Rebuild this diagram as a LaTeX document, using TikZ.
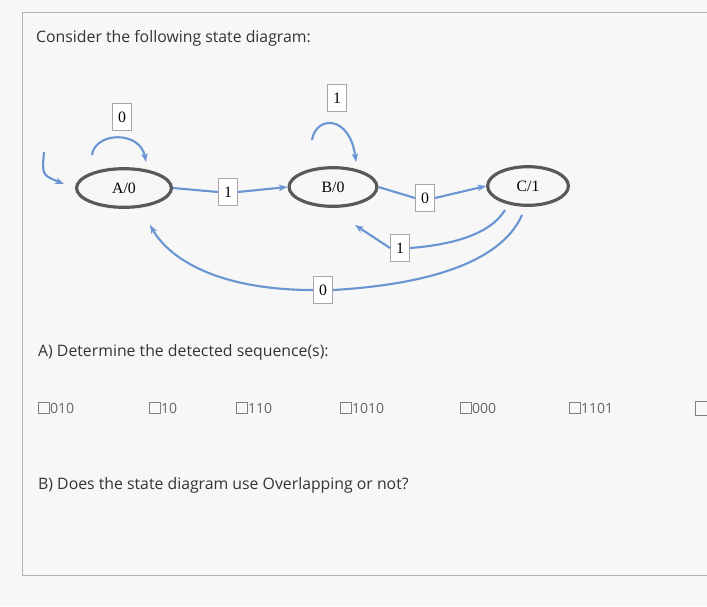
\documentclass[tikz,border=0pt]{standalone}
\usepackage{fontspec}
\setmainfont{Liberation Serif}
\newfontfamily\uisans{Open Sans}
\usetikzlibrary{arrows.meta,shapes.geometric}
\definecolor{edgeblue}{RGB}{105,150,210}
\begin{document}
\begin{tikzpicture}[x=0.02cm,y=-0.02cm,
  st/.style={draw=black!65,line width=1.8pt,ellipse,minimum width=54pt,minimum height=22pt,inner sep=1pt,font=\small},
  lab/.style={draw=black!35,fill=white,inner sep=2pt,minimum width=11pt,minimum height=15pt,font=\small},
  edge/.style={draw=edgeblue,line width=1.2pt,-{Stealth[length=5pt]}},
  cb/.style={draw=black!50,minimum size=6pt,inner sep=0pt},
  ui/.style={font=\uisans\small,text=black!80,anchor=west}]
\useasboundingbox (0,0) rectangle (707,606);
\fill[black!3] (0,0) rectangle (707,606);
\draw[black!30] (22,12) rectangle (707,575);
\node[ui] (t1) at (30,38) {Consider the following state diagram:};
\node[st] (A) at (124,188) {A/0};
\node[st,minimum width=50pt] (B) at (333,187) {B/0};
\node[st,minimum width=46pt] (C) at (528,186) {C/1};
\node[lab] (l0a) at (122,117) {0};
\node[lab] (l1b) at (337,98) {1};
\node[lab] (l1ab) at (228,192) {1};
\node[lab] (l0bc) at (425,198) {0};
\node[lab] (l1cb) at (400,248) {1};
\node[lab] (l0ca) at (323,290) {0};
\draw[edge] (92,155) .. controls (95,132) and (140,130) .. (146,162);
\draw[edge] (312,140) .. controls (316,115) and (350,115) .. (356,162);
\draw[edge,-] (A.east) -- (l1ab.west);
\draw[edge] (l1ab.east) -- (B.west);
\draw[edge,-] (B.east) -- (l0bc.west);
\draw[edge] (l0bc.east) -- (C.west);
\draw[edge,-] (505,210) .. controls (490,235) and (450,245) .. (l1cb.east);
\draw[edge] (l1cb.west) -- (355,225);
\draw[edge,-] (522,215) .. controls (500,265) and (420,285) .. (l0ca.east);
\draw[edge] (l0ca.west) .. controls (220,290) and (170,260) .. (150,225);
\coordinate (s0) at (44,152);
\coordinate (s1) at (64,184);
\draw[edge] (s0) .. controls (42,175) .. (s1);
\node[ui] (qa) at (32,352) {A) Determine the detected sequence(s):};
\foreach \x/\t/\n in {44/010/a,155/10/b,242/110/c,346/1010/d,466/000/e,575/1101/f}{
  \node[cb] (cb\n) at (\x,408) {};
  \node[ui,font=\uisans\footnotesize,text=black!60,inner sep=1pt] (tx\n) at (\x+4,408) {\t};
}
\node[cb,minimum size=8pt] (cbg) at (702,408) {};
\node[ui] (qb) at (32,485) {B) Does the state diagram use Overlapping or not?};
\end{tikzpicture}
\end{document}
